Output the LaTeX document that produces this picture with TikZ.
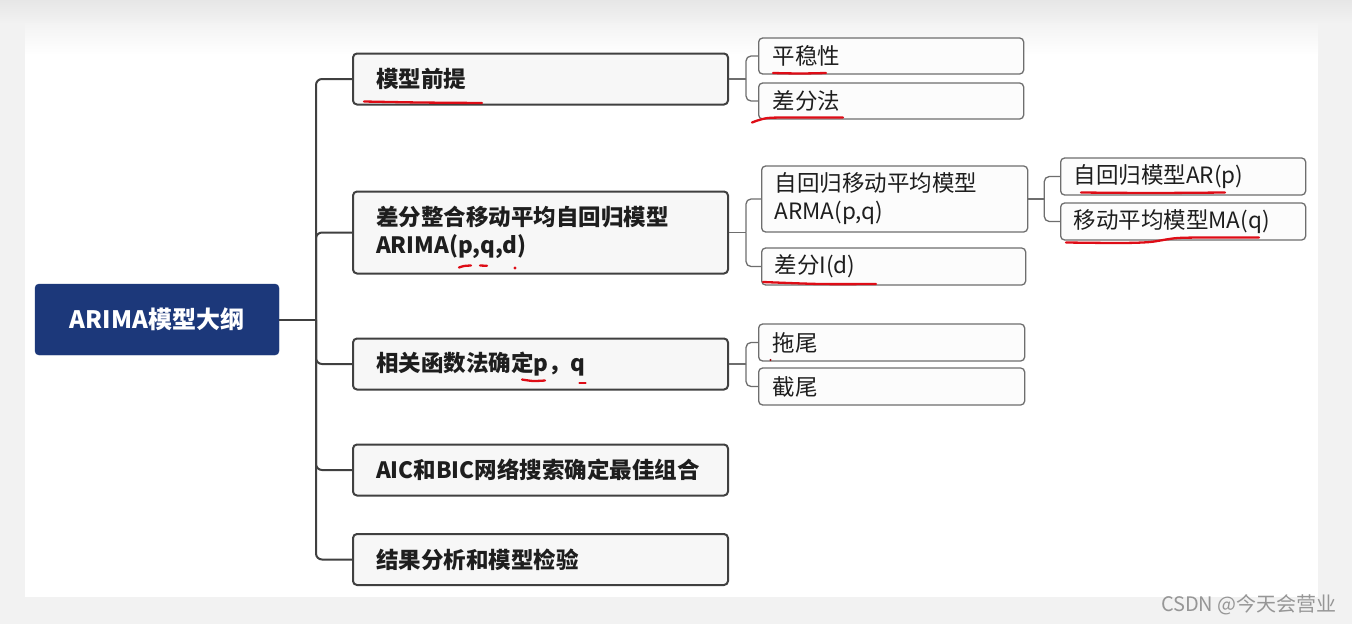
\documentclass[tikz,border=0pt]{standalone}
\usepackage{fontspec}
\setmainfont{Noto Sans CJK SC}
\usetikzlibrary{calc}
\definecolor{rootblue}{RGB}{28,56,122}
\definecolor{lineA}{RGB}{64,64,64}
\definecolor{lineB}{RGB}{110,110,110}
\definecolor{boxfill}{RGB}{247,247,247}
\definecolor{boxfillB}{RGB}{252,252,252}
\definecolor{txt}{RGB}{30,30,30}
\definecolor{redmark}{RGB}{222,12,22}
\definecolor{bggray}{RGB}{242,242,242}
\definecolor{bgtop}{RGB}{230,230,230}
\definecolor{paneltop}{RGB}{243,243,243}
\definecolor{wmgray}{RGB}{150,150,150}
\begin{document}
\begin{tikzpicture}[x=1pt,y=-1pt,
  rootbox/.style={fill=rootblue, draw=rootblue, rounded corners=4pt, minimum width=244pt, minimum height=71pt, inner sep=0pt, text=white, font=\fontsize{24}{28}\selectfont\bfseries},
  lvA/.style={draw=lineA, line width=2pt, fill=boxfill, rounded corners=4pt, anchor=west, inner xsep=23pt, inner ysep=0pt, align=left, text width=329pt, text=txt, font=\fontsize{22.5}{28}\selectfont\bfseries},
  lvB/.style={draw=lineB, line width=1.3pt, fill=boxfillB, rounded corners=4pt, anchor=west, inner ysep=0pt, align=left, text=txt, font=\fontsize{22.5}{28}\selectfont},
  connA/.style={draw=lineA, line width=2pt},
  connB/.style={draw=lineB, line width=1.3pt},
  redline/.style={draw=redmark, line width=2.3pt, line cap=round, line join=round},
]
\useasboundingbox (0,0) rectangle (1352,624);
% background
\fill[bggray] (0,0) rectangle (1352,624);
\shade[top color=bgtop, bottom color=bggray] (0,0) rectangle (1352,23);
\fill[white] (25,23) rectangle (1318,597);
\shade[top color=paneltop, bottom color=white] (25,23) rectangle (1318,55);

% root
\node[rootbox] (root) at (157,319.5) {ARIMA模型大纲};

% level 1
\node[lvA, minimum height=51pt] (p1) at (352,79) {模型前提};
\node[lvA, minimum height=82pt] (p2) at (352,232.5) {差分整合移动平均自回归模型\\ARIMA(p,q,d)};
\node[lvA, minimum height=51pt] (p3) at (352,364) {相关函数法确定p，q};
\node[lvA, minimum height=51pt] (p4) at (352,470) {AIC和BIC网络搜索确定最佳组合};
\node[lvA, minimum height=51pt] (p5) at (352,559.5) {结果分析和模型检验};

% level 2
\node[lvB, inner xsep=14pt, text width=237pt, minimum height=36pt] (c11) at (758,56) {平稳性};
\node[lvB, inner xsep=14pt, text width=237pt, minimum height=36pt] (c12) at (758,101) {差分法};
\node[lvB, inner xsep=13pt, text width=240pt, minimum height=66pt] (c21) at (761,199) {自回归移动平均模型\\ARMA(p,q)};
\node[lvB, inner xsep=13pt, text width=238pt, minimum height=37pt] (c22) at (761,266.5) {差分I(d)};
\node[lvB, inner xsep=13pt, text width=219pt, minimum height=37pt] (d1) at (1060,176.5) {自回归模型AR(p)};
\node[lvB, inner xsep=13pt, text width=219pt, minimum height=37pt] (d2) at (1060,221.5) {移动平均模型MA(q)};
\node[lvB, inner xsep=14pt, text width=238pt, minimum height=37pt] (c31) at (758,342.5) {拖尾};
\node[lvB, inner xsep=14pt, text width=238pt, minimum height=37pt] (c32) at (758,386.5) {截尾};

% trunk connectors
\coordinate (t) at (316,319.5);
\draw[connA] (root.east) -- (t);
\foreach \n in {p1,p2,p3,p4,p5} {
  \draw[connA, rounded corners=6pt] (t) |- (\n.west);
}
% level-2 connectors
\draw[connB] (p1.east) -- ++(17,0) coordinate (j1);
\draw[connB, rounded corners=5pt] (j1) |- (c11.west);
\draw[connB, rounded corners=5pt] (j1) |- (c12.west);
\draw[connB] (p2.east) -- ++(17,0) coordinate (j2);
\draw[connB, rounded corners=5pt] (j2) |- (c21.west);
\draw[connB, rounded corners=5pt] (j2) |- (c22.west);
\draw[connB] (c21.east) -- ++(16,0) coordinate (j3);
\draw[connB, rounded corners=5pt] (j3) |- (d1.west);
\draw[connB, rounded corners=5pt] (j3) |- (d2.west);
\draw[connB] (p3.east) -- ++(17,0) coordinate (j4);
\draw[connB, rounded corners=5pt] (j4) |- (c31.west);
\draw[connB, rounded corners=5pt] (j4) |- (c32.west);

% red hand marks
\draw[redline] plot[smooth] coordinates {(364,101.5) (420,102.5) (482,103)};
\draw[redline] plot[smooth] coordinates {(773,73) (800,73.5) (826,73)};
\draw[redline] plot[smooth] coordinates {(752,122.5) (768,118) (800,117.5) (843,117.5)};
\draw[redline] plot[smooth] coordinates {(459,267.5) (464,266) (471,265.5)};
\draw[redline] (480,265.5) -- (487,265.8);
\fill[redmark] (515,268) circle (1.6pt);
\draw[redline] plot[smooth] coordinates {(763,282) (820,284) (876,284)};
\draw[redline] plot[smooth] coordinates {(1081,192.5) (1150,193) (1225,192.5)};
\draw[redline] plot[smooth] coordinates {(1066,242.5) (1120,243) (1150,242) (1178,238) (1220,237.5) (1259,237.5)};
\draw[redline] plot[smooth] coordinates {(522,379.5) (533,381) (545,380.5)};
\draw[redline] (579.5,383) -- (585.5,383);
\fill[redmark!70!black] (770.5,360) circle (1.2pt);

% watermark
\node[anchor=east, text=wmgray, font=\fontsize{20}{24}\selectfont, inner sep=0pt] (wm) at (1337,605) {CSDN @今天会营业};
\end{tikzpicture}
\end{document}
